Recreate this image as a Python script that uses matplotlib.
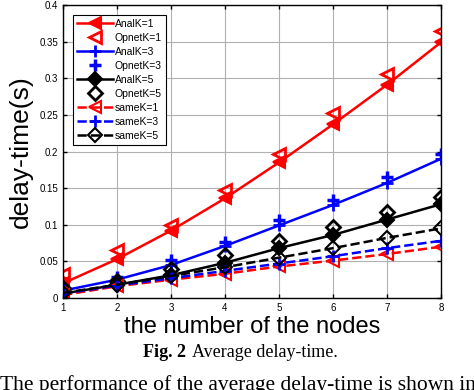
import numpy as np
import matplotlib
matplotlib.use("Agg")
import matplotlib.pyplot as plt

nodes = [1, 2, 3, 4, 5, 6, 7, 8]

anal_k1 = [0.020, 0.053, 0.092, 0.136, 0.185, 0.237, 0.291, 0.349]
opnet_k1 = [0.033, 0.065, 0.100, 0.147, 0.197, 0.252, 0.306, 0.364]
anal_k3 = [0.010, 0.025, 0.045, 0.071, 0.099, 0.127, 0.157, 0.190]
opnet_k3 = [0.012, 0.028, 0.052, 0.077, 0.106, 0.134, 0.165, 0.197]
anal_k5 = [0.006, 0.018, 0.031, 0.048, 0.068, 0.086, 0.107, 0.128]
opnet_k5 = [0.013, 0.023, 0.040, 0.058, 0.078, 0.097, 0.118, 0.138]
same_k1 = [0.004, 0.016, 0.025, 0.033, 0.043, 0.051, 0.060, 0.070]
same_k3 = [0.006, 0.017, 0.027, 0.037, 0.047, 0.057, 0.068, 0.078]
same_k5 = [0.007, 0.018, 0.030, 0.042, 0.055, 0.068, 0.082, 0.095]

y_ticks = [0, 0.05, 0.1, 0.15, 0.2, 0.25, 0.3, 0.35, 0.4]
y_tick_labels = ["0", "0.05", "0.1", "0.15", "0.2", "0.25", "0.3", "0.35", "0.4"]

plt.rcParams["font.family"] = ["Liberation Sans", "DejaVu Sans"]
serif = ["Liberation Serif", "DejaVu Serif"]

fig = plt.figure(figsize=(4.74, 3.9), dpi=100)
ax = fig.add_axes([0.133, 0.236, 0.797, 0.751])

lw = 1.8
ax.plot(nodes, anal_k1, color="red", linestyle="-", lw=lw, marker="<", ms=9,
        mfc="red", mew=1.5, label="AnalK=1")
ax.plot(nodes, opnet_k1, color="red", linestyle="none", marker="<", ms=9,
        mfc="none", mew=2, label="OpnetK=1")
ax.plot(nodes, anal_k3, color="blue", linestyle="-", lw=lw, marker="+", ms=8,
        mew=2, label="AnalK=3")
ax.plot(nodes, opnet_k3, color="blue", linestyle="none", marker="+", ms=8,
        mew=2.5, label="OpnetK=3")
ax.plot(nodes, anal_k5, color="black", linestyle="-", lw=lw, marker="D", ms=7,
        mfc="black", mew=1.5, label="AnalK=5")
ax.plot(nodes, opnet_k5, color="black", linestyle="none", marker="D", ms=7,
        mfc="none", mew=2, label="OpnetK=5")
ax.plot(nodes, same_k1, color="red", linestyle="--", lw=lw, marker="<", ms=9,
        mfc="none", mew=1.5, label="sameK=1")
ax.plot(nodes, same_k3, color="blue", linestyle="--", lw=lw, marker="+", ms=8,
        mew=2, label="sameK=3")
ax.plot(nodes, same_k5, color="black", linestyle="--", lw=lw, marker="D", ms=7,
        mfc="none", mew=1.5, label="sameK=5")

ax.set_xlim(1, 8)
ax.set_ylim(0, 0.4)
ax.set_xticks(nodes)
ax.set_yticks(y_ticks)
ax.set_yticklabels(y_tick_labels)
ax.tick_params(direction="in", top=True, right=True, labelsize=7, length=3, width=1)
ax.grid(True, color="#b0b0b0", lw=0.8)
for s in ax.spines.values():
    s.set_linewidth(1.0)

ax.set_xlabel("the number of the nodes", fontsize=17, labelpad=2)
ax.set_ylabel("delay-time(s)", fontsize=19, labelpad=5)

leg = ax.legend(loc="upper left", bbox_to_anchor=(0.013, 0.985), fontsize=7.5,
                handlelength=3.4, handletextpad=0.2, labelspacing=0.38,
                borderpad=0.4, fancybox=False, edgecolor="black", framealpha=1)
leg.get_frame().set_linewidth(0.8)

fig.text(0.302, 0.095, "Fig. 2", fontsize=13, fontweight="bold", ha="left",
         va="center", family=serif)
fig.text(0.405, 0.095, "Average delay-time.", fontsize=13, ha="left",
         va="center", family=serif)
# paragraph line that is cut off by the bottom edge in the source
fig.text(0.0, 0.012, "The performance of the average delay-time is shown in",
         fontsize=15.5, ha="left", va="center", family=serif)

fig.savefig("out.png", dpi=100)
